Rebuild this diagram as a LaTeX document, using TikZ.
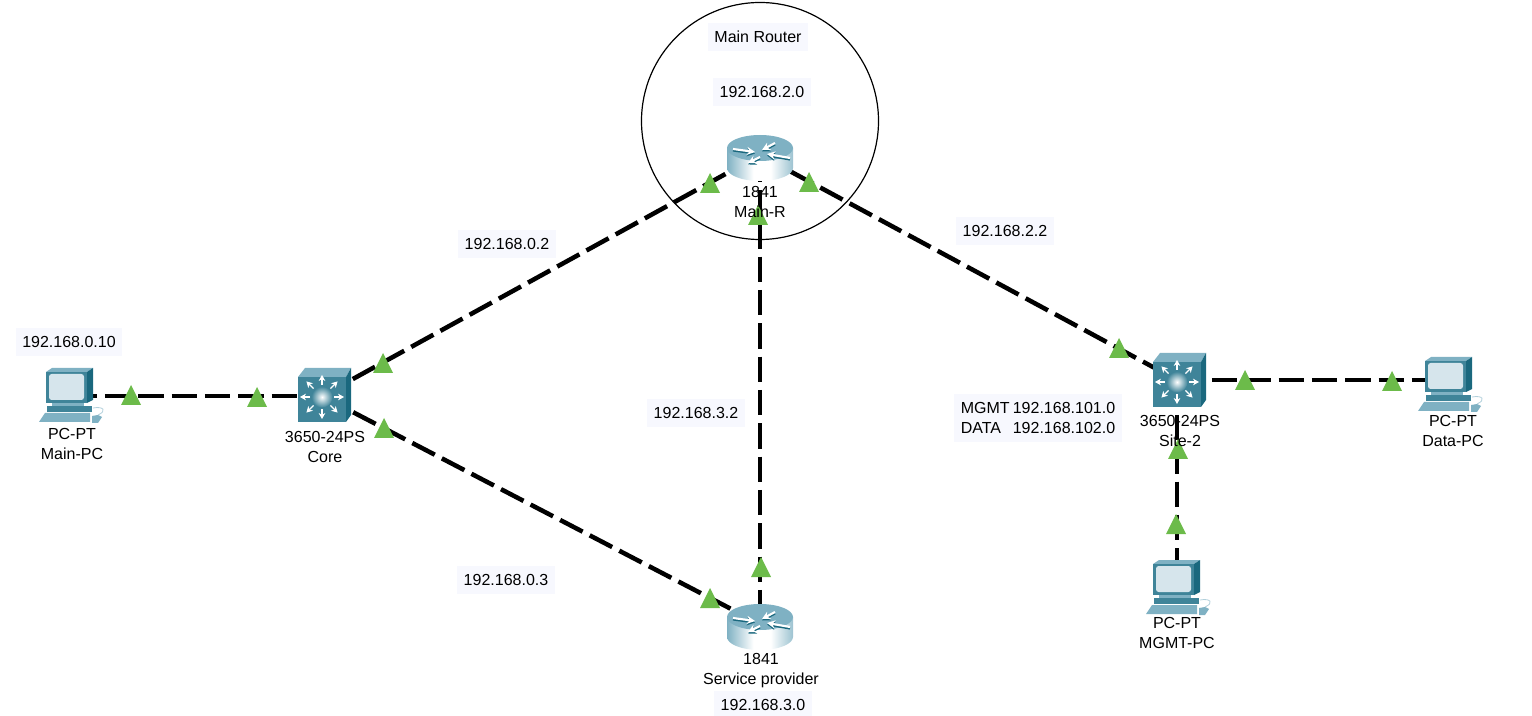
\documentclass[tikz,border=0pt]{standalone}
\usepackage{fontspec}
\setmainfont{Liberation Sans}
\usetikzlibrary{arrows.meta}

\definecolor{linkgreen}{HTML}{6CBB4A}
\definecolor{boxtint}{HTML}{F7F8FE}
\definecolor{ciscotop}{HTML}{7FB1C3}
\definecolor{ciscofront}{HTML}{3F8499}
\definecolor{ciscodark}{HTML}{1A687E}
\definecolor{screenblue}{HTML}{D6E5EC}
\pgfdeclarehorizontalshading{routerbody}{100bp}{
  color(0bp)=(ciscofront); color(25bp)=(ciscotop); color(45bp)=(white);
  color(58bp)=(white); color(80bp)=(ciscotop); color(100bp)=(ciscodark)}

\tikzset{
  devnode/.style={inner sep=0pt, minimum size=2pt},
  devtext/.style={align=center, inner sep=0pt, font=\fontsize{12}{15}\selectfont},
  addrbox/.style={fill=boxtint, inner xsep=5pt, inner ysep=6pt, align=left,
    font=\fontsize{12}{15}\selectfont},
  netlink/.style={line width=3.4pt, dash pattern=on 19pt off 6pt},
  linkup/.pic={\fill[linkgreen] (-10,10) -- (10,10) -- (0,-10) -- cycle;},
  routericon/.pic={
    \path[shade, shading=routerbody] (-33,-7) -- (-33,13) arc[start angle=180, end angle=0, x radius=33, y radius=13] -- (33,-7) -- cycle;
    \fill[ciscotop] (0,-7) ellipse [x radius=33, y radius=13];
    \foreach \ax/\ay/\bx/\by in {-27/-6/-5/-3, 15/-12/2/-5, 0/2/-12/8, 30/3/7/-1} {
      \draw[ciscodark, line width=1.6pt, -{Stealth[length=6pt,width=6pt]}] (\ax,\ay+1.5) -- (\bx,\by+1.5);
      \draw[white, line width=1.6pt, -{Stealth[length=6pt,width=6pt]}] (\ax,\ay) -- (\bx,\by);
    }
  },
  switchicon/.pic={
    \fill[ciscotop] (-24,-20) -- (-17,-29) -- (29,-29) -- (24,-20) -- cycle;
    \fill[ciscodark] (24,-20) -- (29,-29) -- (29,18) -- (24,25) -- cycle;
    \fill[ciscofront] (-24,-20) rectangle (24,25);
    \foreach \ang in {0,45,...,315} {
      \draw[white, line width=1pt, -{Stealth[length=4.5pt,width=5pt]}] (\ang:12) -- (\ang:22);
    }
    \shade[inner color=white, outer color=ciscofront] (0,0) circle (10.5);
  },
  pcicon/.pic={
    \fill[ciscotop] (-24,-25) -- (-18,-29) -- (23,-29) -- (17,-25) -- cycle;
    \fill[ciscodark] (17,-25) -- (23,-29) -- (23,3) -- (17,6) -- cycle;
    \fill[ciscofront] (-24,-25) rectangle (17,6);
    \fill[screenblue, rounded corners=2pt] (-21,-23) rectangle (14,3);
    \fill[ciscotop] (-18,6) -- (14,6) -- (14,9) -- (-18,9) -- cycle;
    \fill[ciscofront] (-23,9) -- (22,9) -- (22,15) -- (-23,15) -- cycle;
    \fill[ciscotop] (-31,25) -- (-25,16) -- (20,16) -- (20,25) -- cycle;
    \fill[ciscotop] (22,19) -- (28,18) -- (32,20) -- (28,26) -- (22,26) -- cycle;
    \draw[ciscotop!60!white, line width=.6pt] (23,11) .. controls (34,9) and (37,14) .. (28,18);
  }
}

\begin{document}
\begin{tikzpicture}[x=0.75pt, y=-0.75pt]
    \useasboundingbox (0,0) rectangle (1532,716);

    % Device positions
    \node[devnode] (mainr) at (760,155) {};
    \node[devnode] (servprov) at (760,624) {};
    \node[devnode] (core) at (322,396) {};
    \node[devnode] (site) at (1177,380) {};
    \node[devnode] (mainpc) at (70,396) {};
    \node[devnode] (datapc) at (1449,380) {};
    \node[devnode] (mgmtpc) at (1177,589) {};

    % Circle round the main router
    \node[draw, circle, line width=.9pt, inner sep=0pt, minimum size=177.75pt] (maincircle) at (760,121) {};

    % Links
    \draw[netlink] (mainpc) -- (core);
    \draw[netlink] (core) -- (mainr);
    \draw[netlink] (core) -- (servprov);
    \draw[netlink] (mainr) -- (servprov);
    \draw[netlink] (mainr) -- (site);
    \draw[netlink] (site) -- (datapc);
    \draw[netlink] (site) -- (mgmtpc);

    % Icons
    \pic at (mainr) {routericon};
    \pic at (servprov) {routericon};
    \pic[yshift=-.75pt] at (core) {switchicon};
    \pic[yshift=-1.5pt] at (site) {switchicon};
    \pic[yshift=-.75pt] at (mainpc) {pcicon};
    \pic[yshift=-4.5pt] at (datapc) {pcicon};
    \pic at (mgmtpc) {pcicon};

    % Link lights
    \foreach \lx/\ly in {131/395, 257/397, 383/363, 384/428, 710/183, 809/182, 758/215,
        761/567, 710/598, 1119/348, 1245/380, 1392/381, 1178/449, 1176/524} {
        \pic at (\lx,\ly) {linkup};
    }

    % Device names
    \node[devtext] (mainrtext) at (760,202) {1841\\Main-R};
    \node[devtext] (servtext) at (761,671) {1841\\Service provider};
    \node[devtext] (coretext) at (325,447) {3650-24PS\\Core};
    \node[devtext] (sitetext) at (1180,431) {3650-24PS\\Site-2};
    \node[devtext] (mainpctext) at (72,444) {PC-PT\\Main-PC};
    \node[devtext] (datapctext) at (1453,431) {PC-PT\\Data-PC};
    \node[devtext] (mgmtpctext) at (1177,633) {PC-PT\\MGMT-PC};

    % Address notes
    \node[addrbox] (routernote) at (758,37) {Main Router};
    \node[addrbox] (net20) at (762,92) {192.168.2.0};
    \node[addrbox] (mainpcaddr) at (69,342) {192.168.0.10};
    \node[addrbox] (coreaddr) at (507,244) {192.168.0.2};
    \node[addrbox] (siteaddr) at (1005,231) {192.168.2.2};
    \node[addrbox] (spaddr) at (696,413) {192.168.3.2};
    \node[addrbox] (coreaddrb) at (506,580) {192.168.0.3};
    \node[addrbox] (net30) at (763,705) {192.168.3.0};
    \node[addrbox] (vlannote) at (1038,418) {\makebox[39pt][l]{MGMT}192.168.101.0\\\makebox[39pt][l]{DATA}192.168.102.0};
\end{tikzpicture}
\end{document}
